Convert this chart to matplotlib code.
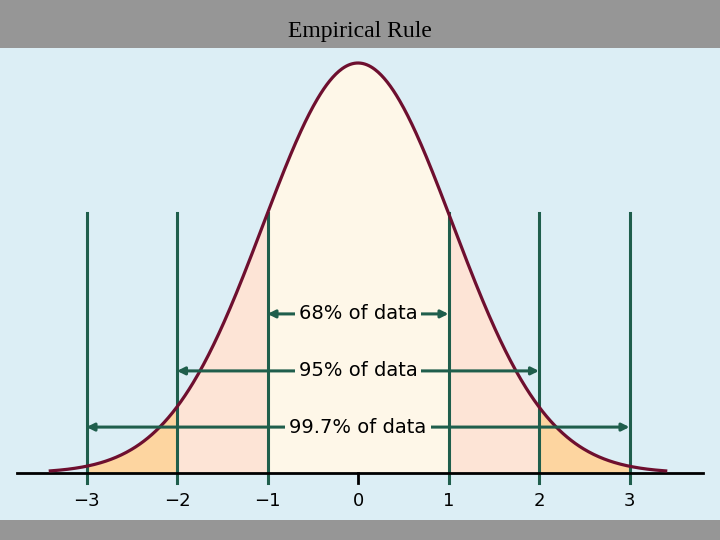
import numpy as np
import matplotlib
matplotlib.use("Agg")
import matplotlib.pyplot as plt
from matplotlib.patches import Rectangle

# chart values
sigma_marks = [-3, -2, -1, 0, 1, 2, 3]
tick_labels = ["\u22123", "\u22122", "\u22121", "0", "1", "2", "3"]
band_limits = [1, 2, 3]
band_labels = ["68% of data", "95% of data", "99.7% of data"]
band_label_y = [0.388, 0.249, 0.112]
curve_sd = 1.047      # width of the drawn bell
curve_extent = 3.4    # where the curve meets the axis

bg_blue = "#dceef5"
grey = "#969696"
cream = "#fef7e8"
pink = "#fde4d6"
orange = "#fdd5a0"
green = "#1f5e4c"
maroon = "#6e0f2f"

def bell(x):
    return np.exp(-x ** 2 / (2 * curve_sd ** 2))

fig = plt.figure(figsize=(7.2, 5.4), dpi=100)
fig.patch.set_facecolor(bg_blue)
ax = fig.add_axes([0, 0, 1, 1])
ax.set_facecolor(bg_blue)
ax.set_xlim(-358 / 90.5, (720 - 358) / 90.5)
ax.set_ylim(-67 / 410, 473 / 410)
ax.axis("off")

# grey header and footer bands
fig.patches.append(Rectangle((0, 1 - 48 / 540), 1, 48 / 540, transform=fig.transFigure,
                             facecolor=grey, edgecolor="none", zorder=0))
fig.patches.append(Rectangle((0, 0), 1, 20 / 540, transform=fig.transFigure,
                             facecolor=grey, edgecolor="none", zorder=0))
fig.text(0.5, 1 - 32 / 540, "Empirical Rule", ha="center", va="center",
         fontsize=17, family="Liberation Serif", color="black")

# shaded regions under the curve
xs = np.linspace(-curve_extent, curve_extent, 600)
fills = [(-3, -2, orange), (-2, -1, pink), (-1, 1, cream), (1, 2, pink), (2, 3, orange)]
for a, b, c in fills:
    seg = np.linspace(a, b, 200)
    ax.fill_between(seg, 0, bell(seg), color=c, lw=0, zorder=1)

# axis line and zero tick
ax.plot([(17 - 358) / 90.5, (703 - 358) / 90.5], [0, 0], color="black", lw=2, zorder=3)
ax.plot([0, 0], [0, -10 / 410], color="black", lw=2, zorder=3)

# vertical sigma lines
line_top = bell(1)
for m in sigma_marks:
    if m != 0:
        ax.plot([m, m], [-10 / 410, line_top], color=green, lw=2.2, zorder=2)

ax.plot(xs, bell(xs), color=maroon, lw=2.3, zorder=4)

for m, lab in zip(sigma_marks, tick_labels):
    ax.text(m, -28 / 410, lab, ha="center", va="center", fontsize=13,
            family="DejaVu Sans", color="black")

# bracket arrows with labels
for k, lab, y in zip(band_limits, band_labels, band_label_y):
    ax.annotate("", xy=(k, y), xytext=(-k, y),
                arrowprops=dict(arrowstyle="<|-|>", color=green, lw=2.2,
                                mutation_scale=11, shrinkA=0, shrinkB=0),
                zorder=5)
    ax.text(0, y, lab, ha="center", va="center", fontsize=14, family="DejaVu Sans",
            color="black", zorder=6,
            bbox=dict(facecolor=cream, edgecolor="none", pad=3))

fig.savefig("out.png", dpi=100, facecolor=fig.get_facecolor())
